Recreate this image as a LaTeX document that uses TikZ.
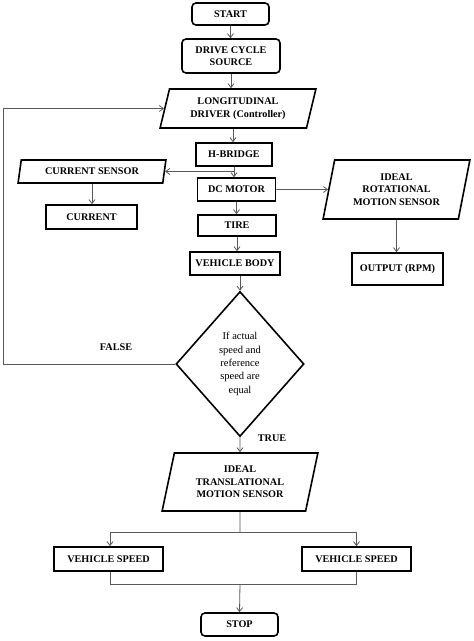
\documentclass[tikz,border=0pt]{standalone}
\usepackage{fontspec}
\setmainfont{Liberation Serif}
\usetikzlibrary{shapes.geometric,arrows.meta}
\begin{document}
\begin{tikzpicture}[x=1pt,y=-1pt,
  every node/.style={font=\fontsize{10.2}{12.5}\selectfont\bfseries, align=center, inner sep=0pt},
  box/.style={draw, line width=1.6pt, rectangle, minimum width=#1},
  rbox/.style={draw, line width=1.6pt, rectangle, rounded corners=4pt, minimum width=#1},
  para/.style={draw, line width=1.6pt, trapezium, trapezium stretches=true, trapezium left angle=#1, trapezium right angle=180-#1},
  conn/.style={draw=black!65, line width=0.8pt},
  arr/.style={conn, -{Straight Barb[length=4pt,width=6pt]}},
  lbl/.style={font=\fontsize{10.2}{12}\selectfont\bfseries}
]
\useasboundingbox (0,0) rectangle (474,641);
% nodes
\node[rbox=77pt, minimum height=22pt] (start) at (230.5,14) {START};
\node[rbox=98pt, minimum height=34pt] (dcs) at (231,56) {DRIVE CYCLE\\SOURCE};
\node[para=73, minimum width=156pt, minimum height=39pt] (ld) at (238,108.5) {LONGITUDINAL\\DRIVER (Controller)};
\node[box=76pt, minimum height=23pt] (hb) at (234,154.5) {H-BRIDGE};
\node[box=78pt, minimum height=23pt] (dc) at (236.5,189.5) {DC MOTOR};
\node[box=78pt, minimum height=21pt] (tire) at (237,225.5) {TIRE};
\node[box=90pt, minimum height=23pt] (vb) at (235,263.5) {VEHICLE BODY};
\node[draw, line width=1.6pt, diamond, shape aspect=0.883, minimum width=128pt, minimum height=145pt,
      font=\fontsize{10.5}{13.3}\selectfont] (dec) at (240,364) {If actual\\speed and\\reference\\speed are\\equal};
\node[para=75.5, minimum width=156pt, minimum height=58pt] (itms) at (240,482) {IDEAL\\TRANSLATIONAL\\MOTION SENSOR};
\node[box=109pt, minimum height=24pt] (vs1) at (108.5,559) {VEHICLE SPEED};
\node[box=109pt, minimum height=24pt] (vs2) at (356.5,559) {VEHICLE SPEED};
\node[rbox=77pt, minimum height=23pt] (stop) at (239.5,624.5) {STOP};
\node[para=73, minimum width=148pt, minimum height=23pt] (cs) at (92,171.5) {CURRENT SENSOR};
\node[box=91pt, minimum height=24pt] (cur) at (91.5,217) {CURRENT};
\node[para=75.7, minimum width=147pt, minimum height=59pt] (irms) at (396.5,189.5) {IDEAL\\ROTATIONAL\\MOTION SENSOR};
\node[box=91pt, minimum height=32pt] (out) at (397.5,269) {OUTPUT (RPM)};
% labels
\node[lbl] (false) at (116,347) {FALSE};
\node[lbl] (true) at (272,438) {TRUE};
% connectors
\draw[arr] (start.south) -- (start.south |- dcs.north);
\draw[arr] (dcs.south) -- (dcs.south |- ld.north);
\draw[arr] ([xshift=-5pt]ld.south) -- ([xshift=-5pt]ld.south |- hb.north);
\draw[arr] (hb.south) -- (hb.south |- dc.north);
\coordinate (tap) at (hb.south |- cs.east);
\draw[arr] (tap) -- (cs.east);
\draw[arr] (dc.south) -- (dc.south |- tire.north);
\draw[arr] (tire.south) -- (tire.south |- vb.north);
\draw[arr] ([xshift=5pt]vb.south) -- (dec.north);
\draw[arr] (dc.east) -- (irms.west);
\draw[arr] (cs.south) -- (cs.south |- cur.north);
\draw[arr] (irms.south) -- (irms.south |- out.north);
\coordinate (fb) at (3,364);
\draw[arr] (dec.west) -- (fb) |- (ld.west);
\draw[arr] (dec.south) -- (itms.north);
\coordinate (sp) at (240,532);
\draw[conn] (itms.south) -- (sp);
\draw[arr] (sp) -| ([xshift=1.5pt]vs1.north);
\draw[arr] (sp) -| (vs2.north);
\coordinate (jn) at (240,584);
\draw[conn] ([xshift=1.5pt]vs1.south) |- (jn);
\draw[conn] (vs2.south) |- (jn);
\draw[arr] (jn) -- (stop.north);
\end{tikzpicture}
\end{document}
